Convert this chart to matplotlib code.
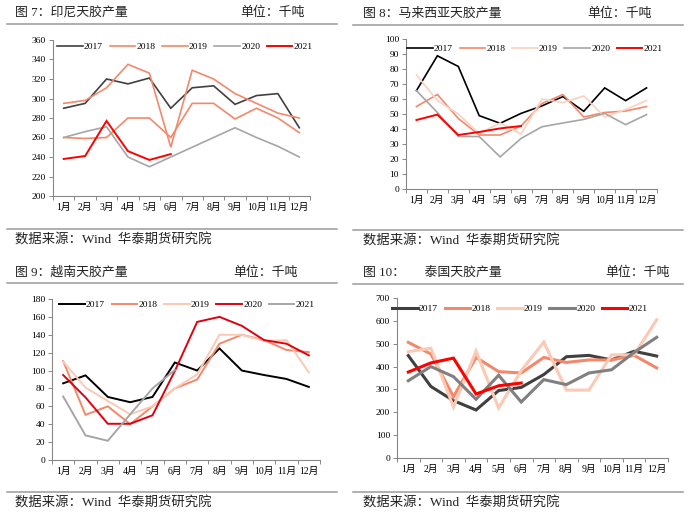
import matplotlib
matplotlib.use('Agg')
import matplotlib.pyplot as plt
from matplotlib.lines import Line2D
from matplotlib.ticker import MultipleLocator, FixedLocator

FAM = ['Liberation Serif', 'Noto Sans CJK SC', 'DejaVu Sans']
plt.rcParams['font.family'] = FAM

MONTHS = ['1月', '2月', '3月', '4月', '5月', '6月', '7月', '8月', '9月', '10月', '11月', '12月']
YEARS = ['2017', '2018', '2019', '2020', '2021']

# Indonesia
ID_2017 = [290, 295, 320, 315, 321, 290, 311, 313, 294, 303, 305, 270]
ID_2018 = [295, 298, 311, 335, 326, 250, 329, 320, 305, 295, 285, 280]
ID_2019 = [260, 259, 260, 280, 280, 260, 295, 295, 279, 290, 280, 265]
ID_2020 = [260, 266, 271, 240, 230, 240, 250, 260, 270, 260, 251, 240]
ID_2021 = [238, 241, 277, 246, 237, 243]

# Malaysia
MY_2017 = [65.6, 88.8, 81.7, 48.9, 43.8, 50.4, 55.4, 61.6, 51.8, 67.4, 58.9, 67.4]
MY_2018 = [55, 63, 47, 36, 36, 42, 57, 63, 48, 51, 52, 55]
MY_2019 = [76, 59, 50, 37, 44, 36.6, 60, 57.6, 62, 48, 53, 59]
MY_2020 = [65.6, 51, 35, 35, 21.4, 33.7, 41.5, 44, 46.4, 50.4, 42.9, 49.6]
MY_2021 = [46, 49.6, 36, 38, 40.4, 42]

# Vietnam
VN_2017 = [85.7, 94.6, 70.5, 64.6, 70.5, 109, 100, 124.7, 100, 95, 90.6, 81.7]
VN_2018 = [110.6, 50.5, 60, 40, 60, 80, 90, 130, 140, 134, 123, 120.6]
VN_2019 = [110, 81, 66, 51, 60, 80, 95.8, 140, 140, 133, 134, 98]
VN_2020 = [95, 70, 40.5, 40.5, 50, 99.5, 154.4, 160, 150, 134, 130, 117]
VN_2021 = [71, 27.5, 21.5, 51, 80, 100.6]

# Thailand
TH_2017 = [448, 313, 251, 210, 295, 309, 365, 443, 449, 429, 467, 446]
TH_2018 = [506, 455, 268, 440, 378, 372, 440, 418, 429, 429, 449, 394]
TH_2019 = [465, 480, 223, 467, 219, 382, 507, 297, 297, 451, 452, 605]
TH_2020 = [338, 400, 356, 257, 362, 245, 343, 321, 372, 386, 462, 528]
TH_2021 = [376, 416, 437, 280, 316, 328]

W, H = 690, 522
fig = plt.figure(figsize=(W / 100, H / 100), dpi=100)
fig.patch.set_facecolor('white')


def fx(px):
    return px / W


def fy(py):
    return 1 - py / H


def hline(x0, x1, y):
    fig.add_artist(Line2D([fx(x0), fx(x1)], [fy(y), fy(y)], color='#9a9a9a', lw=1.1,
                          transform=fig.transFigure))


def panel(box, series, colors, lws, ylim, ystep, title, tx, ty, unit_x, footer_y,
          line_top, leg_x, leg_y):
    l, r, t, b = box
    ax = fig.add_axes([fx(l), fy(b), fx(r - l), (b - t) / H])
    x = list(range(12))
    for name, vals, c, lw in zip(YEARS, series, colors, lws):
        ax.plot(x[:len(vals)], vals, color=c, lw=lw, label=name, solid_joinstyle='miter')
    ax.set_xlim(-0.5, 11.5)
    ax.set_ylim(*ylim)
    ax.yaxis.set_major_locator(MultipleLocator(ystep))
    ax.set_xticks(x)
    ax.set_xticklabels(MONTHS, fontsize=7)
    ax.xaxis.set_minor_locator(FixedLocator([i - 0.5 for i in range(13)]))
    ax.tick_params(axis='x', which='major', length=0, pad=5)
    ax.tick_params(axis='x', which='minor', length=3, width=0.7, color='#888888')
    ax.tick_params(axis='y', length=3, width=0.7, color='#888888', labelsize=6.8, pad=2)
    for s in ['top', 'right']:
        ax.spines[s].set_visible(False)
    for s in ['left', 'bottom']:
        ax.spines[s].set_color('#888888')
        ax.spines[s].set_linewidth(0.8)
    ax.legend(loc='center left', bbox_to_anchor=(fx(leg_x), fy(leg_y)),
              bbox_transform=fig.transFigure, ncol=5, frameon=False,
              fontsize=6.8, handlelength=2.7, handletextpad=0.15,
              columnspacing=0.7, borderpad=0, borderaxespad=0)
    # header and footer
    fig.text(fx(tx), fy(ty), title, fontsize=9.3, va='center', ha='left', color='#222222')
    fig.text(fx(unit_x), fy(ty), '单位：千吨', fontsize=9.3, va='center', ha='right',
             color='#222222')
    x0 = 7 if tx < 300 else 353
    hline(x0, x0 + 330, line_top)
    hline(x0, x0 + 330, footer_y)
    fig.text(fx(tx), fy(footer_y + 11), '数据来源：Wind  华泰期货研究院', fontsize=9.6,
             va='center', ha='left', color='#222222')
    return ax


SAL = '#f4886a'
panel((53, 310, 40, 196), [ID_2017, ID_2018, ID_2019, ID_2020, ID_2021],
      ['#404040', SAL, SAL, '#a6a6a6', '#ff0000'], [1.2, 1.2, 1.2, 1.2, 1.4],
      (200, 360), 20, '图 7：印尼天胶产量', 15, 13, 305, 229, 24, 57, 47)

panel((406, 657, 39, 189), [MY_2017, MY_2018, MY_2019, MY_2020, MY_2021],
      ['#000000', SAL, '#fad1bf', '#a6a6a6', '#ff0000'], [1.2, 1.2, 1.2, 1.2, 1.4],
      (0, 100), 10, '图 8：马来西亚天胶产量', 363, 14, 652, 230, 25, 407, 49)

panel((52, 320, 299, 460), [VN_2017, VN_2018, VN_2019, VN_2020, VN_2021],
      ['#000000', SAL, '#fbc9b4', '#e00010', '#a6a6a6'], [1.4, 1.4, 1.4, 1.4, 1.4],
      (0, 180), 20, '图 9：越南天胶产量', 15, 273, 298, 492, 283, 59, 305)

panel((397, 668, 298, 458), [TH_2017, TH_2018, TH_2019, TH_2020, TH_2021],
      ['#404040', SAL, '#fbc9b4', '#808080', '#ff0000'], [2.2, 2.2, 2.2, 2.2, 2.2],
      (0, 700), 100, '图 10：      泰国天胶产量', 363, 273, 670, 492, 284, 392, 309)

fig.savefig('out.png', dpi=100, facecolor='white')
